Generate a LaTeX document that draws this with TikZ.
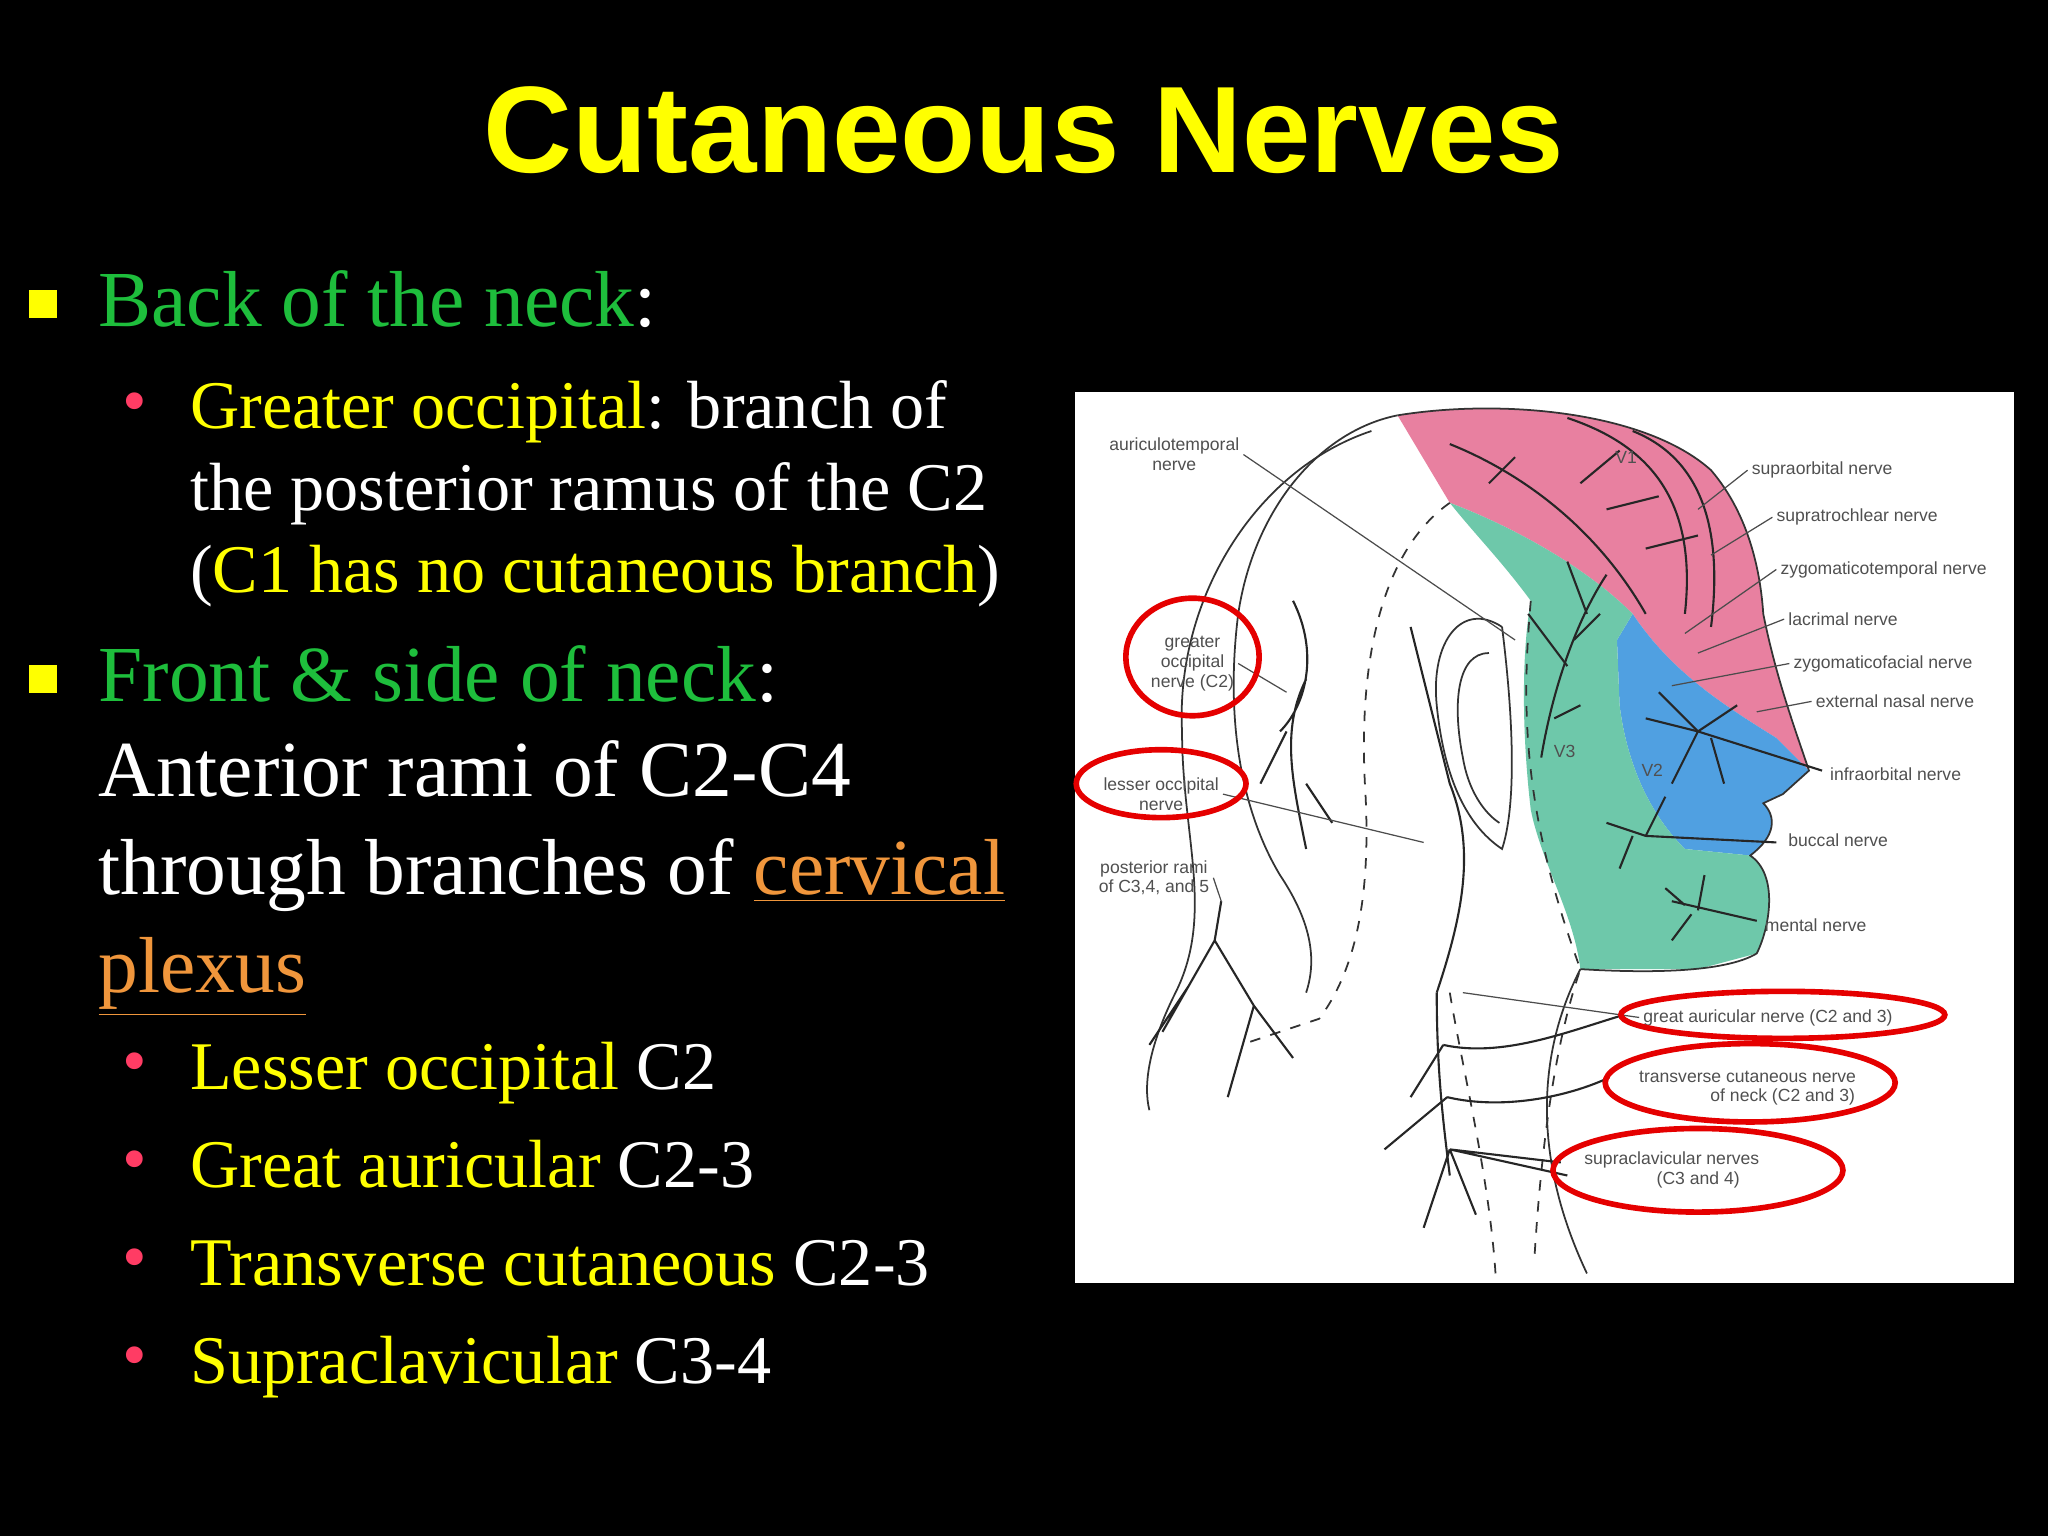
\documentclass[tikz,border=0pt]{standalone}
\usepackage{fontspec}
\setmainfont{Liberation Serif}
\newfontfamily\arialf{Liberation Sans}
\definecolor{tgreen}{RGB}{30,190,60}
\definecolor{tyel}{RGB}{255,255,0}
\definecolor{torange}{RGB}{240,150,60}
\definecolor{tpink}{RGB}{255,60,100}
\definecolor{vpink}{RGB}{232,128,160}
\definecolor{vblue}{RGB}{80,160,225}
\definecolor{vteal}{RGB}{110,200,170}
\definecolor{lblgray}{RGB}{80,80,80}
\begin{document}
\begin{tikzpicture}[x=0.013061cm,y=-0.013061cm,
  main/.style={anchor=base west,text=white,font=\fontsize{22.6}{26}\selectfont,inner sep=0},
  sub/.style={anchor=base west,text=white,font=\fontsize{19.4}{24}\selectfont,inner sep=0},
  sqb/.style={fill=tyel,minimum size=0.28cm,inner sep=0},
  dotb/.style={text=tpink,font=\fontsize{20}{24}\selectfont,inner sep=0},
  lbl/.style={text=lblgray,font=\arialf\fontsize{5}{5.6}\selectfont,inner sep=1pt,align=center},
  nerve/.style={draw=black!85,line width=0.6pt},
  outl/.style={draw=black!80,line width=0.5pt},
  lead/.style={draw=black!70,line width=0.35pt},
  ring/.style={draw=red!90!black,line width=1.6pt}]
\fill[black] (0,0) rectangle (1568,1176);
\useasboundingbox (0,0) rectangle (1568,1176);
\node[text=tyel,font=\arialf\bfseries\fontsize{35}{40}\selectfont] (title) at (784,100) {Cutaneous Nerves};
% left text
\node[sqb] (b1) at (33,233) {};
\node[main] (t1) at (75,250) {\textcolor{tgreen}{Back of the neck}:};
\node[dotb] (d1) at (103,313) {•};
\node[sub] (t2) at (145,328) {\textcolor{tyel}{Greater occipital}: branch of};
\node[sub] (t3) at (145,391) {the posterior ramus of the C2};
\node[sub] (t4) at (145,454) {(\textcolor{tyel}{C1 has no cutaneous branch})};
\node[sqb] (b2) at (33,520) {};
\node[main] (t5) at (75,537) {\textcolor{tgreen}{Front \& side of neck}:};
\node[main] (t6) at (75,610) {Anterior rami of C2-C4};
\node[main] (t7) at (75,685) {through branches of \textcolor{torange}{\underline{cervical}}};
\node[main] (t8) at (75,760) {\textcolor{torange}{\underline{plexus}}};
\node[dotb] (d2) at (103,818) {•};
\node[sub] (t9) at (145,834) {\textcolor{tyel}{Lesser occipital} C2};
\node[dotb] (d3) at (103,893) {•};
\node[sub] (t10) at (145,909) {\textcolor{tyel}{Great auricular} C2-3};
\node[dotb] (d4) at (103,968) {•};
\node[sub] (t11) at (145,984) {\textcolor{tyel}{Transverse cutaneous} C2-3};
\node[dotb] (d5) at (103,1043) {•};
\node[sub] (t12) at (145,1059) {\textcolor{tyel}{Supraclavicular} C3-4};
% illustration
\fill[white] (823,300) rectangle (1542,982);
\fill[vpink] (1070,318) .. controls (1150,305) and (1260,315) .. (1310,360) .. controls (1340,395) and (1348,440) .. (1350,470) .. controls (1360,520) and (1375,560) .. (1385,590) -- (1360,565) .. controls (1320,540) and (1280,515) .. (1250,470) .. controls (1210,430) and (1150,400) .. (1110,385) -- cycle;
\fill[vblue] (1250,470) .. controls (1280,515) and (1320,540) .. (1360,565) -- (1385,590) -- (1365,608) -- (1350,615) .. controls (1360,625) and (1360,640) .. (1340,655) -- (1290,650) .. controls (1260,620) and (1245,580) .. (1240,540) -- (1238,490) -- cycle;
\fill[vteal] (1110,385) .. controls (1150,400) and (1210,430) .. (1250,470) -- (1238,490) -- (1240,540) .. controls (1245,580) and (1260,620) .. (1290,650) -- (1340,655) .. controls (1362,670) and (1355,710) .. (1345,730) -- (1300,742) -- (1210,742) .. controls (1205,700) and (1180,660) .. (1172,620) .. controls (1165,560) and (1165,500) .. (1172,460) .. controls (1150,430) and (1130,410) .. (1110,385) -- cycle;
% head outlines
\draw[outl] (1070,318) .. controls (1010,330) and (960,390) .. (948,470) .. controls (938,550) and (950,620) .. (980,670) .. controls (1000,700) and (1010,730) .. (1000,760);
\draw[outl] (1070,318) .. controls (1150,305) and (1260,315) .. (1310,360) .. controls (1340,395) and (1348,440) .. (1350,470) .. controls (1360,520) and (1375,560) .. (1385,590) -- (1365,608) -- (1350,615) .. controls (1360,625) and (1360,640) .. (1340,655) .. controls (1362,670) and (1355,710) .. (1345,730) .. controls (1320,745) and (1260,745) .. (1210,742);
\draw[outl] (1050,330) .. controls (960,360) and (900,460) .. (905,560) .. controls (905,640) and (930,700) .. (900,760) .. controls (880,800) and (875,830) .. (880,850);
\draw[outl,dashed] (1110,385) .. controls (1060,420) and (1040,500) .. (1045,600) .. controls (1050,680) and (1040,740) .. (1010,780) -- (950,800);
\draw[outl,dashed] (1172,460) .. controls (1165,540) and (1165,620) .. (1210,742) .. controls (1190,800) and (1180,880) .. (1175,960);
\draw[outl,dashed] (1110,760) .. controls (1120,820) and (1140,900) .. (1145,975);
\draw[outl] (1210,742) .. controls (1180,800) and (1170,880) .. (1215,975);
% ear
\draw[outl] (1150,480) .. controls (1120,460) and (1095,490) .. (1100,540) .. controls (1105,590) and (1120,630) .. (1150,650) .. controls (1160,620) and (1160,560) .. (1150,480);
\draw[outl] (1140,500) .. controls (1115,500) and (1112,540) .. (1120,580) .. controls (1125,610) and (1140,625) .. (1148,630);
% nerves V1
\draw[nerve] (1110,340) .. controls (1160,360) and (1220,400) .. (1260,470);
\draw[nerve] (1200,320) .. controls (1260,340) and (1300,380) .. (1290,470);
\draw[nerve] (1250,330) .. controls (1300,350) and (1320,400) .. (1310,480);
\draw[nerve] (1160,350) -- (1140,370) (1210,370) -- (1240,345) (1230,390) -- (1270,380) (1260,420)--(1300,410);
% V2
\draw[nerve] (1270,530) -- (1300,560) -- (1395,590);
\draw[nerve] (1300,560) -- (1280,600) (1300,560) -- (1330,540) (1310,565)--(1320,600) (1300,560)--(1260,550);
% V3
\draw[nerve] (1180,580) .. controls (1190,520) and (1210,470) .. (1230,440);
\draw[nerve] (1200,510) -- (1170,470) (1205,490)--(1225,470) (1215,470)--(1200,430) (1190,550)--(1210,540);
\draw[nerve] (1230,630) -- (1260,640) -- (1360,645);
\draw[nerve] (1250,640)--(1240,665) (1260,640)--(1275,610);
\draw[nerve] (1280,690) -- (1345,705) (1290,693)--(1275,680) (1300,697)--(1305,670) (1295,700)--(1280,720);
% neck nerves
\draw[nerve] (1100,760) .. controls (1120,700) and (1130,650) .. (1110,600) .. controls (1100,560) and (1090,520) .. (1080,480);
\draw[nerve] (1100,760) .. controls (1100,820) and (1105,860) .. (1110,900);
\draw[nerve] (1105,800) .. controls (1150,810) and (1200,790) .. (1240,778);
\draw[nerve] (1108,840) .. controls (1150,850) and (1200,840) .. (1232,825);
\draw[nerve] (1110,880) -- (1195,890) (1110,880)--(1200,900) (1110,880)--(1130,930) (1110,880)--(1090,940) (1105,800)--(1080,840) (1108,840)--(1060,880);
\draw[nerve] (1000,520) .. controls (980,560) and (990,600) .. (1000,650) (990,460) .. controls (1010,500) and (1000,540) .. (980,560) (985,560)--(965,600) (1000,600)--(1020,630);
\draw[nerve] (935,690) -- (930,720) -- (890,790) (930,720)--(960,770)--(940,840) (960,770)--(990,810) (910,755)--(880,800);
% leaders and labels
\node[lbl,anchor=east] (auri) at (952,348) {auriculotemporal\\nerve};
\draw[lead] (auri.east) -- (1160,490);
\node[lbl] (gocc) at (913,508) {greater\\occipital\\nerve (C2)};
\draw[lead] (gocc.east) -- (985,530);
\node[lbl] (locc) at (889,608) {lesser occipital\\nerve};
\draw[lead] (locc.east) -- (1090,645);
\node[lbl,anchor=west] (post) at (838,672) {posterior rami\\of C3,4, and 5};
\draw[lead] (post.east) -- (935,690);
\node[lbl,anchor=west] (so) at (1338,360) {supraorbital nerve};
\draw[lead] (so.west) -- (1300,390);
\node[lbl,anchor=west] (st) at (1357,396) {supratrochlear nerve};
\draw[lead] (st.west) -- (1310,425);
\node[lbl,anchor=west] (zt) at (1360,436) {zygomaticotemporal nerve};
\draw[lead] (zt.west) -- (1290,485);
\node[lbl,anchor=west] (lac) at (1366,474) {lacrimal nerve};
\draw[lead] (lac.west) -- (1300,500);
\node[lbl,anchor=west] (zf) at (1370,508) {zygomaticofacial nerve};
\draw[lead] (zf.west) -- (1280,525);
\node[lbl,anchor=west] (en) at (1387,537) {external nasal nerve};
\draw[lead] (en.west) -- (1345,545);
\node[lbl,anchor=west] (io) at (1398,593) {infraorbital nerve};
\node[lbl,anchor=west] (buc) at (1366,643) {buccal nerve};
\node[lbl,anchor=west] (men) at (1348,708) {mental nerve};
\node[lbl,anchor=west] (ga) at (1255,779) {great auricular nerve (C2 and 3)};
\draw[lead] (ga.west) -- (1120,760);
\node[lbl] (tc) at (1338,833) {transverse cutaneous nerve\\\hspace*{4em}of neck (C2 and 3)};
\node[lbl] (sc) at (1280,896) {supraclavicular nerves\\\hspace*{3em}(C3 and 4)};
\node[lbl] (v1) at (1245,350) {V1};
\node[lbl] (v2) at (1265,590) {V2};
\node[lbl] (v3) at (1198,575) {V3};
% red rings
\draw[ring] (913,503) ellipse [x radius=51,y radius=45];
\draw[ring] (889,600) ellipse [x radius=65,y radius=26];
\draw[ring] (1365,777) ellipse [x radius=124,y radius=18];
\draw[ring] (1340,829) ellipse [x radius=111,y radius=30];
\draw[ring] (1300,896) ellipse [x radius=111,y radius=32];
\end{tikzpicture}
\end{document}
